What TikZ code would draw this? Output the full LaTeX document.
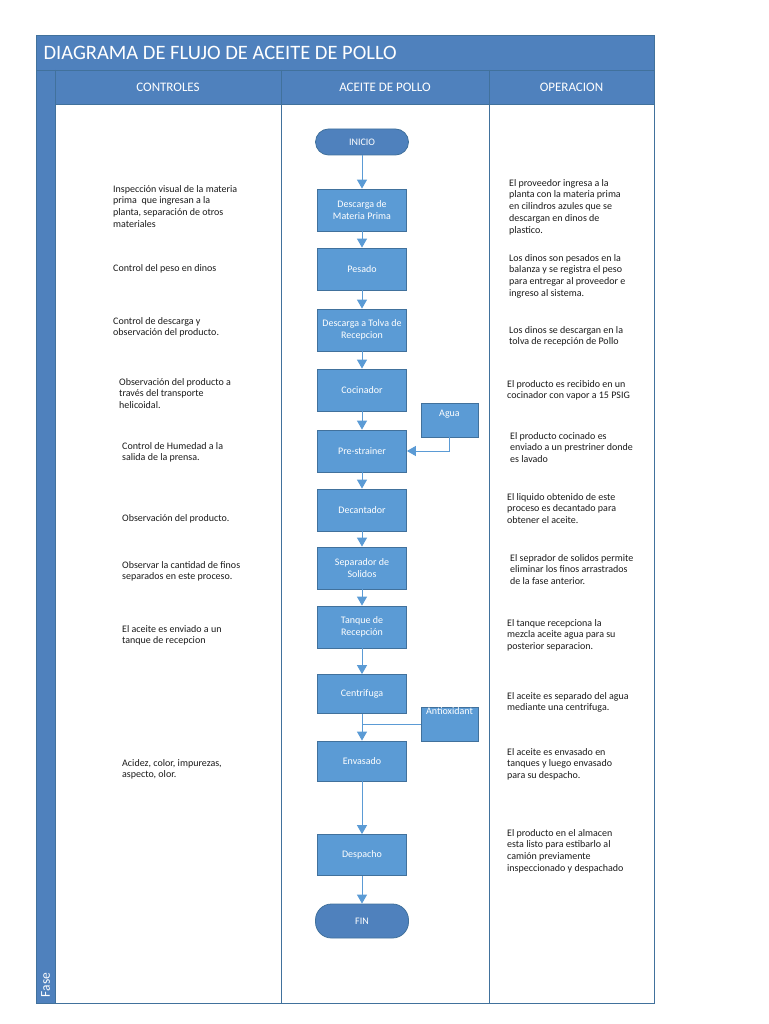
\documentclass[tikz,border=0pt]{standalone}
\usepackage{fontspec}
\setmainfont{Carlito}
\usepackage{xcolor}
\definecolor{fdhead}{HTML}{4F81BD}
\definecolor{fdedge}{HTML}{41719C}
\definecolor{fdfill}{HTML}{5B9BD5}
\definecolor{fdtermfill}{HTML}{4F81BD}
\definecolor{fdink}{HTML}{1A1A1A}
\usepackage{tikz}
\usetikzlibrary{arrows.meta,positioning}
\newcommand{\fdsmall}{\fontsize{10}{11.8}\selectfont}
\newcommand{\fdhdrfont}{\fontsize{13}{15}\selectfont}
\newcommand{\fdtitlefont}{\fontsize{20.5}{24}\selectfont}
\tikzset{
  fdstep/.style  ={rectangle, draw=fdedge, fill=fdfill, line width=0.8pt,
                   minimum width=89pt, minimum height=42pt, inner sep=2pt,
                   align=center, text=white, font=\fdsmall},
  fdterm/.style  ={fdstep, fill=fdtermfill, minimum width=93pt, minimum height=26pt,
                   rounded corners=13pt},
  fdinput/.style ={fdstep, minimum width=57pt, minimum height=34pt},
  fdarrow/.style ={-{Triangle[length=9pt,width=10pt]}, line width=1pt, draw=fdfill},
  fdline/.style  ={line width=1pt, draw=fdfill},
  fdtxt/.style   ={anchor=north west, inner sep=0pt, align=left, text=fdink, font=\fdsmall},
  fdhdr/.style   ={text=white, font=\fdhdrfont},
  fdlane/.style  ={draw=fdedge, line width=0.8pt},
}
\begin{document}
\begin{tikzpicture}[x=1pt, y=-1pt]
  \useasboundingbox (0,0) rectangle (768,1024);
  % frame
  \fill[fdhead] (36,35) rectangle (654,104);
  \fill[fdhead] (36,104) rectangle (55,1003);
  \draw[fdlane] (36,35) rectangle (654,1003);
  \draw[fdlane] (36,70) -- (654,70);
  \draw[fdlane] (55,104) -- (654,104);
  \foreach \x in {55,281,489}
    \draw[fdlane] (\x,70) -- (\x,1003);
  \node[fdhdr, font=\fdtitlefont, anchor=west] (title) at (40,52.5)
    {DIAGRAMA DE FLUJO DE ACEITE DE POLLO};
  \foreach \x/\lbl/\n in {168/CONTROLES/hc, 385/ACEITE DE POLLO/ha, 571.5/OPERACION/ho}
    \node[fdhdr] (\n) at (\x,87) {\lbl};
  \node[fdhdr, rotate=90, font=\fontsize{13.5}{15}\selectfont] (fase) at (45.5,985) {Fase};

  % flow
  \node[fdterm] (ini) at (362,142) {INICIO};
  \node[fdstep] (dmp) at (362,210) {Descarga de\\Materia Prima};
  \node[fdstep] (pes) at (362,269) {Pesado};
  \node[fdstep] (tol) at (362,330) {Descarga a Tolva de\\Recepcion};
  \node[fdstep] (coc) at (362,390) {Cocinador};
  \node[fdstep] (pre) at (362,451) {Pre-strainer};
  \node[fdstep] (dec) at (362,510) {Decantador};
  \node[fdstep] (sep) at (362,568) {Separador de\\Solidos};
  \node[fdstep] (tan) at (362,627) {Tanque de\\Recepción};
  \node[fdstep, minimum height=39pt] (cen) at (362,694) {Centrifuga};
  \node[fdstep, minimum height=40pt] (env) at (362,761) {Envasado};
  \node[fdstep, minimum height=41pt] (des) at (362,855) {Despacho};
  \node[fdterm, minimum height=34pt, rounded corners=16pt] (fin) at (362,921) {FIN};
  \node[fdinput, label={[anchor=north, text=white, font=\fdsmall, inner sep=1pt, yshift=-6pt]north:Agua}]
    (agua) at (449.5,420) {};
  \node[fdinput, label={[anchor=north, text=white, font=\fdsmall, inner sep=1pt]north:Antioxidant}]
    (anti) at (449.5,724) {};

  \foreach \a/\b in {ini/dmp, dmp/pes, pes/tol, tol/coc, coc/pre, pre/dec,
                     dec/sep, sep/tan, tan/cen, cen/env, env/des, des/fin}
    \draw[fdarrow] (\a) -- (\b);
  \draw[fdarrow] (agua.south) |- (pre.east);
  \draw[fdline] (anti.west) -- (anti.west -| cen.south);

  % controles
  \foreach \n/\x/\y/\t in {
      1/113/185/{Inspección visual de la materia\\prima\ \ que ingresan a la\\planta, separación de otros\\materiales},
      2/113/264/{Control del peso en dinos},
      3/113/317/{Control de descarga y\\observación del producto.},
      4/119/378/{Observación del producto a\\través del transporte\\helicoidal.},
      5/122/442/{Control de Humedad a la\\salida de la prensa.},
      6/122/514/{Observación del producto.},
      7/122/561/{Observar la cantidad de finos\\separados en este proceso.},
      8/122/625/{El aceite es enviado a un\\tanque de recepcion},
      9/122/759/{Acidez, color, impurezas,\\aspecto, olor.}}
    \node[fdtxt] (c\n) at (\x,\y) {\t};

  % operacion
  \foreach \n/\x/\y/\t in {
      1/509/179/{El proveedor ingresa a la\\planta con la materia prima\\en cilindros azules que se\\descargan en dinos de\\plastico.},
      2/509/254/{Los dinos son pesados en la\\balanza y se registra el peso\\para entregar al proveedor e\\ingreso al sistema.},
      3/509/326/{Los dinos se descargan en la\\tolva de recepción de Pollo},
      4/507/380/{El producto es recibido en un\\cocinador con vapor a 15 PSIG},
      5/510/432/{El producto cocinado es\\enviado a un prestriner donde\\es lavado},
      6/507/493/{El liquido obtenido de este\\proceso es decantado para\\obtener el aceite.},
      7/510/554/{El seprador de solidos permite\\eliminar los finos arrastrados\\de la fase anterior.},
      8/507/619/{El tanque recepciona la\\mezcla aceite agua para su\\posterior separacion.},
      9/507/692/{El aceite es separado del agua\\mediante una centrifuga.},
      10/507/748/{El aceite es envasado en\\tanques y luego envasado\\para su despacho.},
      11/507/829/{El producto en el almacen\\esta listo para estibarlo al\\camión previamente\\inspeccionado y despachado}}
    \node[fdtxt] (o\n) at (\x,\y) {\t};
\end{tikzpicture}
\end{document}
